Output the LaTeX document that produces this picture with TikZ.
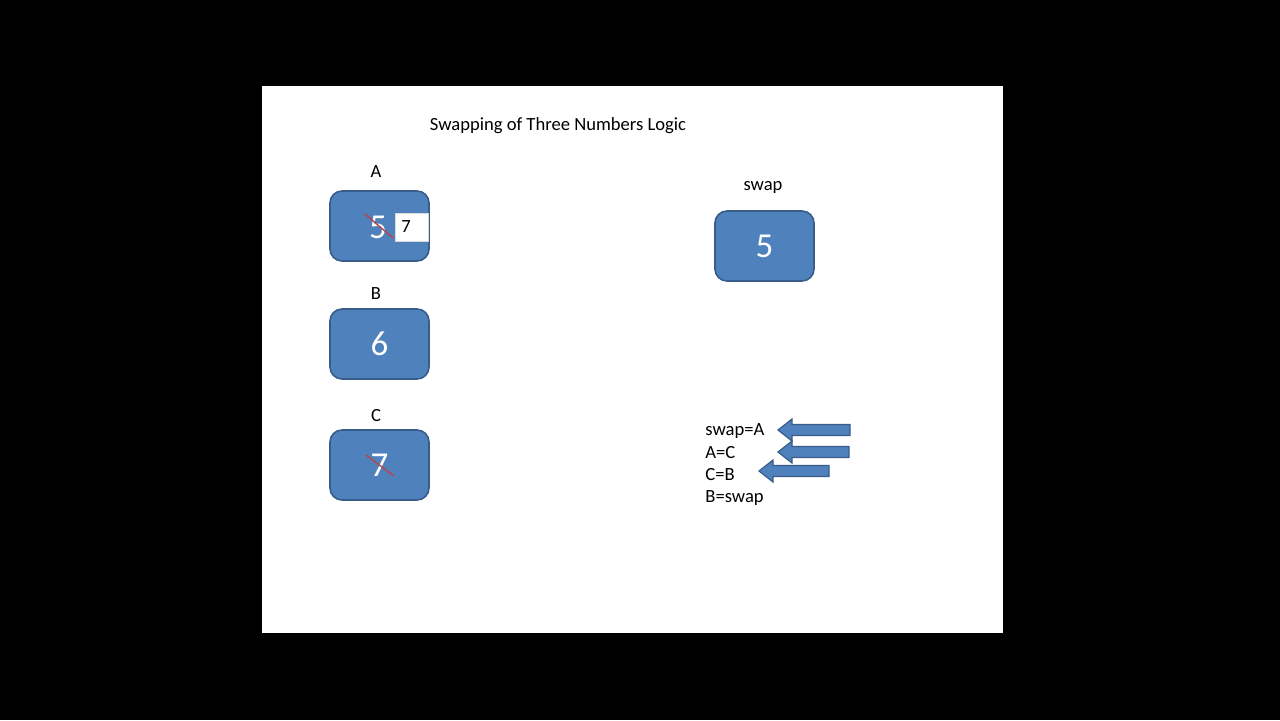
\documentclass[tikz,border=0pt]{standalone}
\usepackage{fontspec}
\setmainfont{Carlito}
\definecolor{boxfill}{HTML}{4F81BD}
\definecolor{boxline}{HTML}{385D8A}
\definecolor{strike}{HTML}{B5474B}
\begin{document}
\begin{tikzpicture}[x=0.5pt,y=-0.5pt,
  varbox/.style={draw=boxline,fill=boxfill,line width=0.8pt,rounded corners=6pt,
    minimum width=49.5pt,minimum height=35pt,inner sep=0pt,text=white,font=\fontsize{17.5}{17.5}\selectfont},
  lbl/.style={font=\fontsize{9.3}{11}\selectfont,inner sep=0pt},
  code/.style={font=\fontsize{9.3}{11}\selectfont,inner sep=0pt,anchor=west},
  blockarrow/.style={draw=boxline,fill=boxfill,line width=0.6pt,line join=miter},
  strikeline/.style={strike,line width=0.7pt}]
\fill[black] (0,0) rectangle (1280,720);
\useasboundingbox (0,0) rectangle (1280,720);
\fill[white] (262,86) rectangle (1003,633);
\node[lbl] (title) at (558,126) {Swapping of Three Numbers Logic};
% variables
\node[lbl] (la) at (376,172) {A};
\node[varbox] (A) at (379.5,226) {};
\node[text=white,font=\fontsize{17.5}{17.5}\selectfont,inner sep=0pt] (a5) at (378,227) {5};
\node[fill=white,draw=black!15,line width=0.3pt,minimum width=16.5pt,minimum height=14pt,inner sep=0pt] (a7box) at (411.5,227) {};
\node[lbl] (a7) at (406,227) {7};
\draw[strikeline] (365,214) -- (393,238);
\node[lbl] (lb) at (376,294) {B};
\node[varbox] (B) at (379.5,344) {6};
\node[lbl] (lc) at (376,416) {C};
\node[varbox] (C) at (379.5,465) {7};
\draw[strikeline] (366,455) -- (394,476);
\node[lbl] (ls) at (763,187) {swap};
\node[varbox] (S) at (764.5,246) {5};
% code
\node[code] (c1) at (705,431) {swap=A};
\node[code] (c2) at (705,453) {A=C};
\node[code] (c3) at (705,475) {C=B};
\node[code] (c4) at (705,498) {B=swap};
\filldraw[blockarrow] (778,430) -- (792,419) -- (792,424.5) -- (850,424.5) -- (850,435.5) -- (792,435.5) -- (792,441) -- cycle;
\filldraw[blockarrow] (778,452) -- (792,441) -- (792,446.5) -- (849,446.5) -- (849,457.5) -- (792,457.5) -- (792,463) -- cycle;
\filldraw[blockarrow] (759,471) -- (773,460) -- (773,465.5) -- (829,465.5) -- (829,476.5) -- (773,476.5) -- (773,482) -- cycle;
\end{tikzpicture}
\end{document}
